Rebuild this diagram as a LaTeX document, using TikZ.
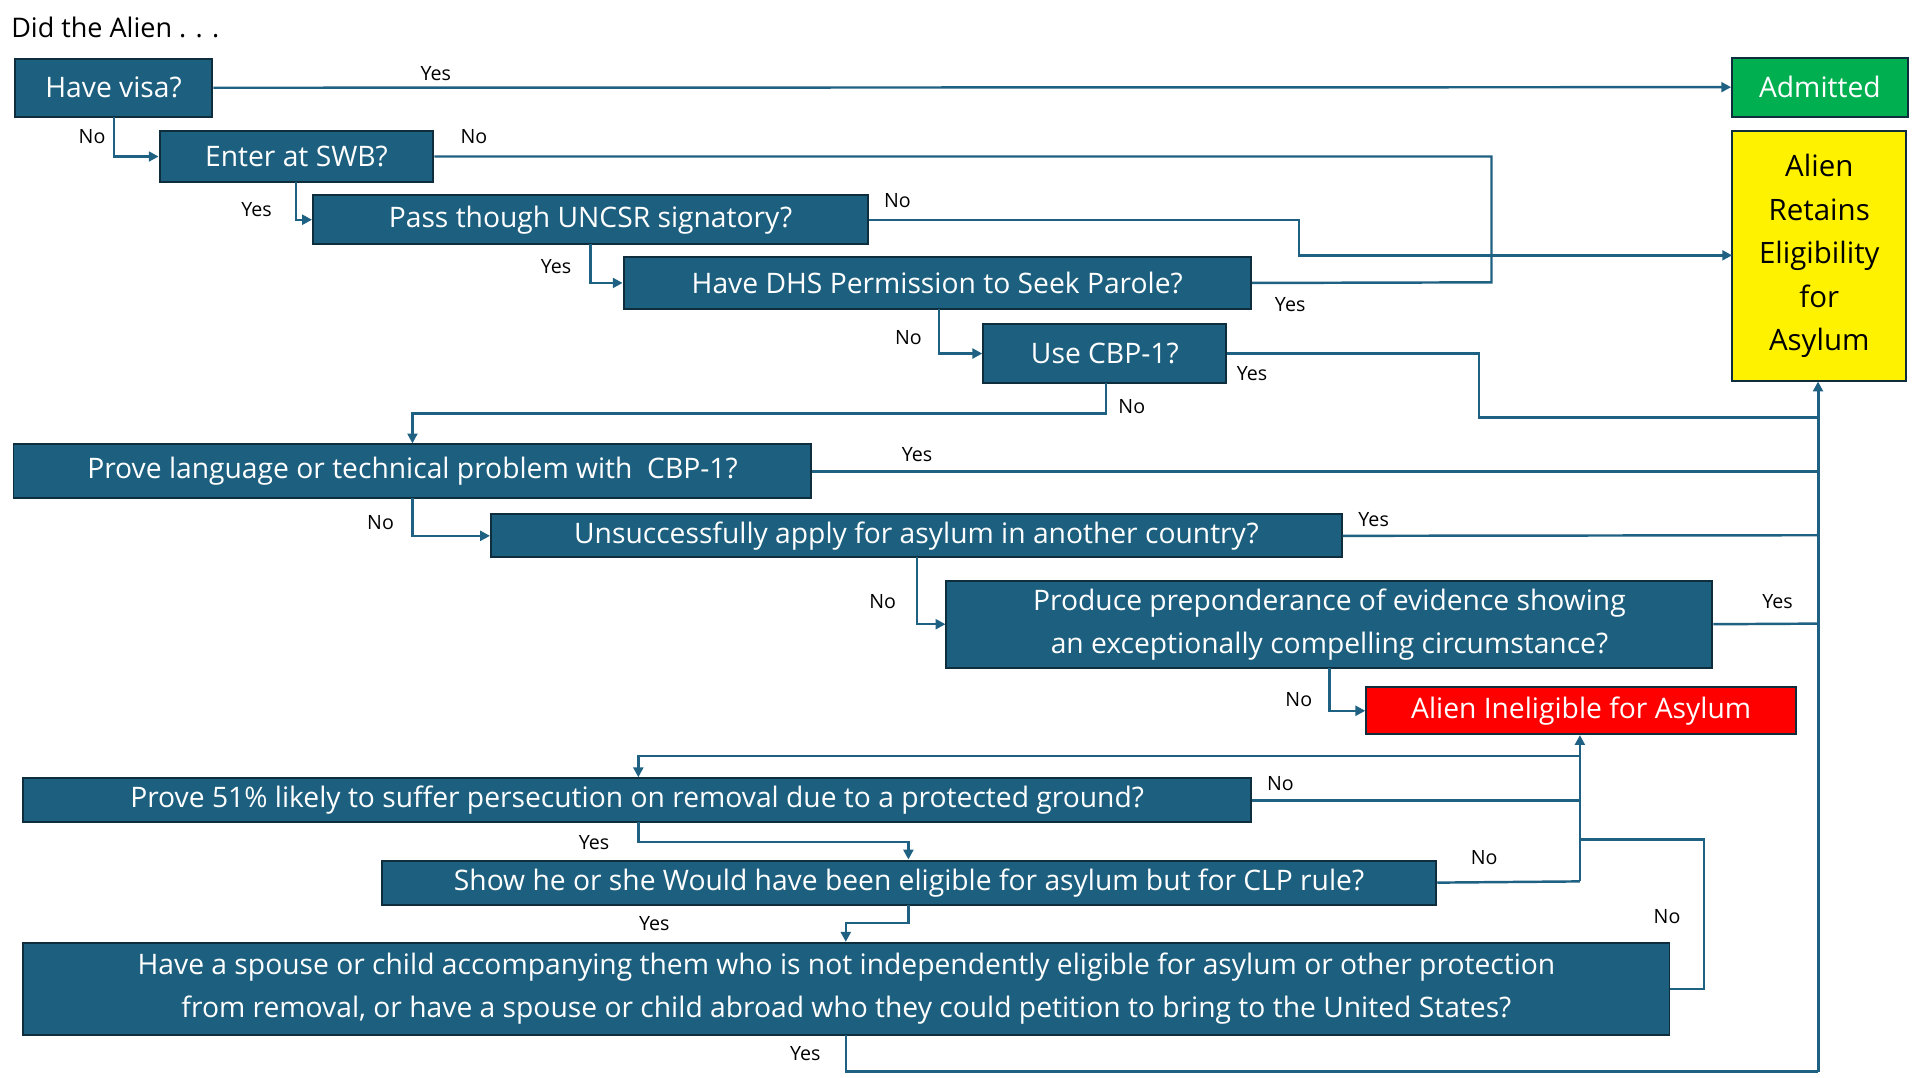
\documentclass[tikz,border=0pt]{standalone}
\usepackage{fontspec}
\setmainfont{Open Sans}
\usetikzlibrary{arrows.meta}
\definecolor{qblue}{HTML}{1D5F7E}
\definecolor{qedge}{HTML}{0E2E3E}
\definecolor{lineb}{HTML}{1F6182}
\definecolor{okgreen}{HTML}{00B050}
\tikzset{
  qbox/.style={draw=qedge, line width=1.6pt, fill=qblue, text=white, inner sep=0pt, align=center, font=\fontsize{23}{35}\selectfont},
  conn/.style={draw=lineb, line width=2pt},
  arr/.style={conn, -{Triangle[length=8pt,width=8pt]}},
  lab/.style={font=\fontsize{16}{18}\selectfont, text=black, inner sep=0pt},
}
\newcommand{\bx}[7][]{\node[qbox,#1, minimum width=#4pt-#2pt, minimum height=#5pt-#3pt] (#6) at ({(#2+#4)/2},{(#3+#5)/2}) {#7};}
\begin{document}
\begin{tikzpicture}[x=1pt,y=-1pt]
\useasboundingbox (0,0) rectangle (1560,878);
\node[anchor=west, inner sep=0pt, font=\fontsize{22}{26}\selectfont] (title) at (9,22) {Did the Alien . . .};
\bx{12}{48}{173}{95}{visa}{Have visa?}
\bx[fill=okgreen]{1411}{47}{1554}{95}{adm}{Admitted}
\bx[fill=yellow,text=black,font=\fontsize{24}{35.5}\selectfont]{1411}{107}{1553}{310}{ret}{Alien\\Retains\\Eligibility\\for\\Asylum}
\bx{130}{107}{353}{148}{swb}{Enter at SWB?}
\bx{255}{159}{707}{199}{unc}{Pass though UNCSR signatory?}
\bx{508}{209}{1019}{252}{dhs}{Have DHS Permission to Seek Parole?}
\bx{801}{264}{999}{312}{cbp}{Use CBP-1?}
\bx{11}{362}{661}{406}{lang}{Prove language or technical problem with\ \ CBP-1?}
\bx{400}{419}{1093}{454}{other}{Unsuccessfully apply for asylum in another country?}
\bx{771}{473}{1395}{544}{prod}{Produce preponderance of evidence showing\\an exceptionally compelling circumstance?}
\bx[fill=red]{1113}{560}{1463}{598}{inel}{Alien Ineligible for Asylum}
\bx{19}{634}{1019}{670}{p51}{Prove 51\% likely to suffer persecution on removal due to a protected ground?}
\bx{311}{701}{1170}{737}{clp}{Show he or she Would have been eligible for asylum but for CLP rule?}
\bx{19}{768}{1360}{843}{sp}{Have a spouse or child accompanying them who is not independently eligible for asylum or other protection\\from removal, or have a spouse or child abroad who they could petition to bring to the United States?}
\coordinate (rb) at (1481,873);
\coordinate (ib) at (1287,718);
\draw[arr] (visa.east) -- (adm.west);
\draw[arr] (93,95) |- (swb.west);
\draw[conn] (swb.east) -| (1215,230) -- (dhs.east);
\draw[arr] (241,148) |- (unc.west);
\draw[arr] (unc.east) -| (1058,208) -- (1411,208);
\draw[arr] (481,199) |- (dhs.west);
\draw[arr] (765,252) |- (cbp.west);
\draw[conn] (cbp.east) -| (1205,340) -- (1481,340);
\draw[arr] (901,312) |- (336,337) -- (lang.north -| 336,0);
\draw[conn] (lang.east) -- (1481,384);
\draw[arr] (336,406) |- (other.west);
\draw[conn] (other.east) -- (1481,436);
\draw[arr] (747,454) |- (prod.west);
\draw[conn] (prod.east) -- (1481,508);
\draw[arr] (1083,544) |- (inel.west);
\draw[arr, line width=2.4pt] (rb) -- (ret.south -| rb);
\draw[arr] (ib) -- (inel.south -| ib);
\draw[arr] (1287,616) -| (p51.north -| 520,0);
\draw[conn] (p51.east) -- (1287,652);
\draw[conn] (clp.east) -- (ib);
\draw[conn] (sp.east) -| (1388,684) -- (1287,684);
\draw[arr] (520,670) |- (740,686) -- (clp.north -| 740,0);
\draw[arr] (740,737) |- (689,752) -- (sp.north -| 689,0);
\draw[conn] (689,843) |- (rb);
\node[lab] (l1) at (355,60) {Yes};
\node[lab] (l2) at (75,111) {No};
\node[lab] (l3) at (386,111) {No};
\node[lab] (l4) at (209,171) {Yes};
\node[lab] (l5) at (731,163) {No};
\node[lab] (l6) at (453,217) {Yes};
\node[lab] (l7) at (1051,248) {Yes};
\node[lab] (l8) at (740,275) {No};
\node[lab] (l9) at (1020,304) {Yes};
\node[lab] (l10) at (922,331) {No};
\node[lab] (l11) at (747,370) {Yes};
\node[lab] (l12) at (310,426) {No};
\node[lab] (l13) at (1119,423) {Yes};
\node[lab] (l14) at (719,490) {No};
\node[lab] (l15) at (1448,490) {Yes};
\node[lab] (l16) at (1058,570) {No};
\node[lab] (l17) at (1043,638) {No};
\node[lab] (l18) at (484,686) {Yes};
\node[lab] (l19) at (1209,699) {No};
\node[lab] (l20) at (533,752) {Yes};
\node[lab] (l21) at (1358,747) {No};
\node[lab] (l22) at (656,858) {Yes};
\end{tikzpicture}
\end{document}
